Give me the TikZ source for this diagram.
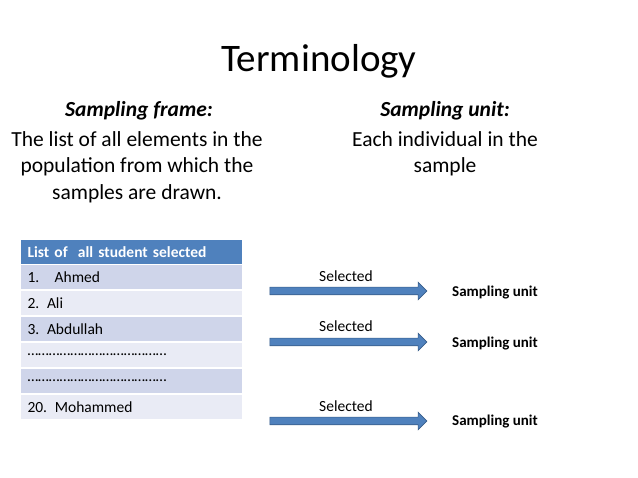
\documentclass[tikz,border=0pt]{standalone}
\usepackage{fontspec}
\setmainfont{Carlito}
\usetikzlibrary{shapes.arrows}
\definecolor{hdr}{HTML}{4F81BD}
\definecolor{rowa}{HTML}{CFD5EA}
\definecolor{rowb}{HTML}{E9EBF5}
\definecolor{arrb}{HTML}{385D8A}
\tikzset{
  row/.style={minimum width=222pt,minimum height=25pt,inner ysep=0pt,inner xsep=7pt,anchor=north west,draw=white,line width=1pt,text width=208pt,align=left,font=\fontsize{15.5}{18}\selectfont},
  lbl/.style={font=\fontsize{15.5}{18}\selectfont},
  unit/.style={font=\bfseries\fontsize{15}{18}\selectfont},
  bigarr/.style={single arrow,fill=hdr,draw=arrb,line width=0.6pt,minimum height=157pt,minimum width=17pt,single arrow head extend=5pt,single arrow tip angle=90,inner xsep=0pt,inner ysep=3.5pt}
}
\begin{document}
\begin{tikzpicture}[x=1pt,y=-1pt]
\useasboundingbox (0,0) rectangle (638,478);
\node (title) at (319,61) {\fontsize{39}{44}\selectfont Terminology};
\node (h1) at (139,111) {\fontsize{21.5}{26}\selectfont\bfseries\itshape Sampling frame:};
\node (h2) at (445,111) {\fontsize{21.5}{26}\selectfont\bfseries\itshape Sampling unit:};
\node[align=center,font=\fontsize{21.5}{26.5}\selectfont] (d1) at (137,167) {The list of all elements in the\\population from which the\\samples are drawn.};
\node[align=center,font=\fontsize{21.5}{26.5}\selectfont] (d2) at (445,154) {Each individual in the\\sample};
\node[row,fill=hdr,text=white,font=\bfseries\fontsize{15.5}{18}\selectfont] (r0) at (20,239) {List of\ \ all student selected};
\node[row,fill=rowa] (r1) at (20,264) {1.\ \ \ Ahmed};
\node[row,fill=rowb] (r2) at (20,290) {2. Ali};
\node[row,fill=rowa] (r3) at (20,316) {3. Abdullah};
\node[row,fill=rowb] (r4) at (20,342) {…………………………………};
\node[row,fill=rowa] (r5) at (20,368) {…………………………………};
\node[row,fill=rowb] (r6) at (20,394) {20. Mohammed};
\node[bigarr] (a1) at (346.5,291) {};
\node[bigarr] (a2) at (346.5,342) {};
\node[bigarr] (a3) at (346.5,421) {};
\node[lbl] (s1) at (346,276) {Selected};
\node[lbl] (s2) at (346,326) {Selected};
\node[lbl] (s3) at (346,406) {Selected};
\node[unit] (u1) at (495,293) {Sampling unit};
\node[unit] (u2) at (495,344) {Sampling unit};
\node[unit] (u3) at (495,422) {Sampling unit};
\end{tikzpicture}
\end{document}
